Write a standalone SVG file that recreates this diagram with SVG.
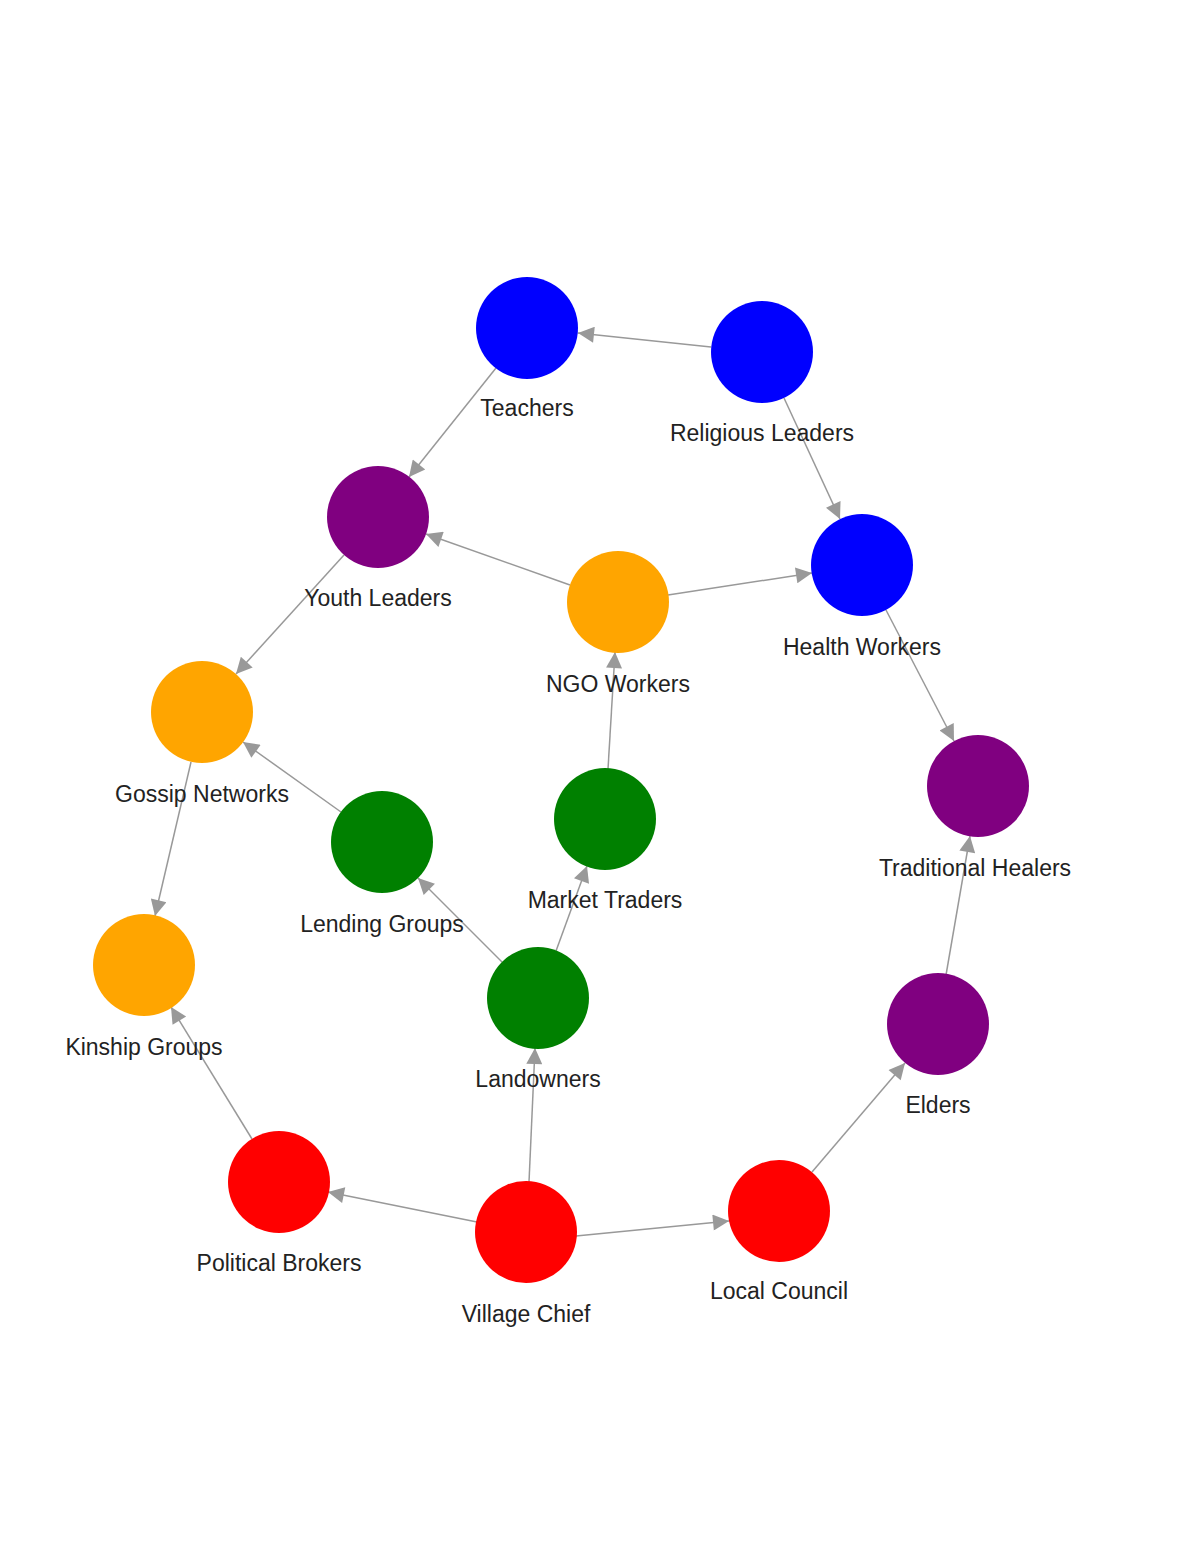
<svg xmlns="http://www.w3.org/2000/svg" width="1200" height="1553" viewBox="0 0 1200 1553">
<style>
.e{stroke:#999;stroke-width:1.5;fill:none;marker-end:url(#a)}
text{font-family:"Liberation Sans",Arial,sans-serif;font-size:23px;fill:#222;text-anchor:middle}
</style>
<defs><marker id="a" viewBox="0 0 10 10" refX="10" refY="5" markerWidth="20" markerHeight="16" markerUnits="userSpaceOnUse" orient="auto"><path d="M0,0L10,5L0,10z" fill="#999"/></marker></defs>
<rect width="1200" height="1553" fill="#fff"/>
<g id="edges">
<line class="e" x1="711" y1="347" x2="578" y2="333"/>
<line class="e" x1="496" y1="368" x2="409" y2="477"/>
<line class="e" x1="784" y1="398" x2="840" y2="519"/>
<line class="e" x1="570" y1="585" x2="426" y2="534"/>
<line class="e" x1="668" y1="595" x2="812" y2="573"/>
<line class="e" x1="344" y1="555" x2="236" y2="674"/>
<line class="e" x1="886" y1="610" x2="954" y2="741"/>
<line class="e" x1="341" y1="812" x2="243" y2="742"/>
<line class="e" x1="608" y1="769" x2="615" y2="652"/>
<line class="e" x1="191" y1="762" x2="155" y2="916"/>
<line class="e" x1="502" y1="962" x2="418" y2="878"/>
<line class="e" x1="556" y1="951" x2="587" y2="866"/>
<line class="e" x1="946" y1="975" x2="970" y2="836"/>
<line class="e" x1="252" y1="1139" x2="171" y2="1007"/>
<line class="e" x1="477" y1="1222" x2="328" y2="1192"/>
<line class="e" x1="576" y1="1236" x2="729" y2="1221"/>
<line class="e" x1="529" y1="1182" x2="535" y2="1048"/>
<line class="e" x1="812" y1="1172" x2="905" y2="1063"/>
</g>
<g id="teachers"><circle cx="527" cy="328" r="51" fill="#0000ff"/><text x="527" y="416">Teachers</text></g>
<g id="religious"><circle cx="762" cy="352" r="51" fill="#0000ff"/><text x="762" y="441">Religious Leaders</text></g>
<g id="youth"><circle cx="378" cy="517" r="51" fill="#800080"/><text x="378" y="606">Youth Leaders</text></g>
<g id="ngo"><circle cx="618" cy="602" r="51" fill="#ffa500"/><text x="618" y="692">NGO Workers</text></g>
<g id="health"><circle cx="862" cy="565" r="51" fill="#0000ff"/><text x="862" y="655">Health Workers</text></g>
<g id="gossip"><circle cx="202" cy="712" r="51" fill="#ffa500"/><text x="202" y="802">Gossip Networks</text></g>
<g id="traditional"><circle cx="978" cy="786" r="51" fill="#800080"/><text x="975" y="876">Traditional Healers</text></g>
<g id="lending"><circle cx="382" cy="842" r="51" fill="#008000"/><text x="382" y="932">Lending Groups</text></g>
<g id="market"><circle cx="605" cy="819" r="51" fill="#008000"/><text x="605" y="908">Market Traders</text></g>
<g id="kinship"><circle cx="144" cy="965" r="51" fill="#ffa500"/><text x="144" y="1055">Kinship Groups</text></g>
<g id="landowners"><circle cx="538" cy="998" r="51" fill="#008000"/><text x="538" y="1087">Landowners</text></g>
<g id="elders"><circle cx="938" cy="1024" r="51" fill="#800080"/><text x="938" y="1113">Elders</text></g>
<g id="political"><circle cx="279" cy="1182" r="51" fill="#ff0000"/><text x="279" y="1271">Political Brokers</text></g>
<g id="village"><circle cx="526" cy="1232" r="51" fill="#ff0000"/><text x="526" y="1322">Village Chief</text></g>
<g id="local"><circle cx="779" cy="1211" r="51" fill="#ff0000"/><text x="779" y="1299">Local Council</text></g>
</svg>
